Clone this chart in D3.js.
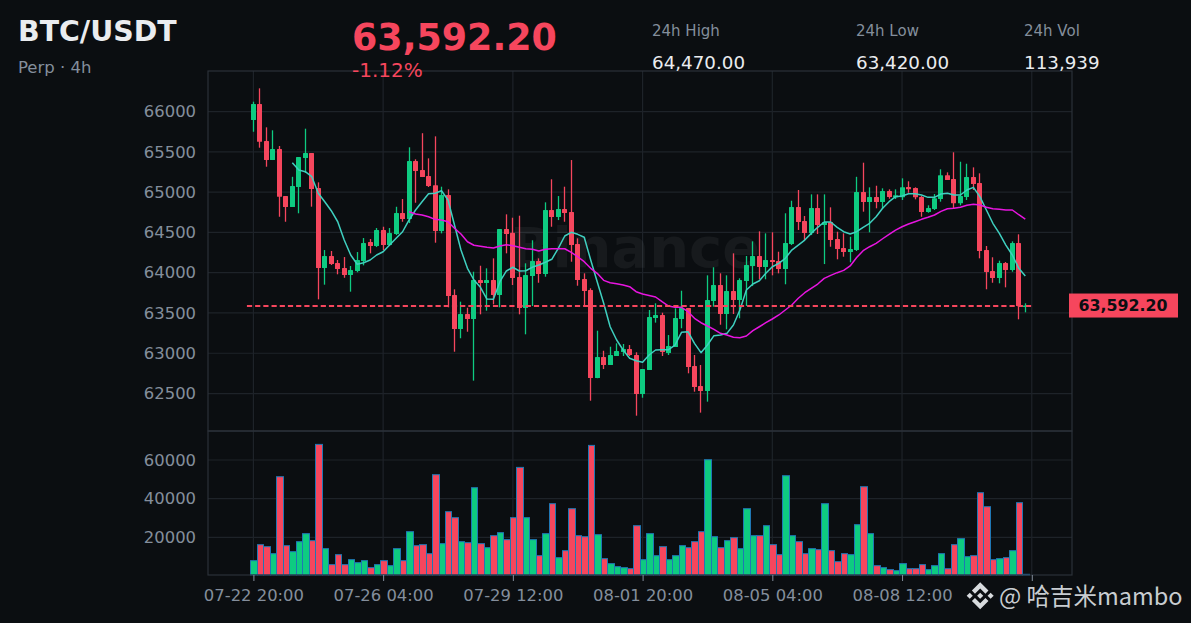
<!DOCTYPE html>
<html>
<head>
<meta charset="utf-8">
<style>
html, body { margin: 0; padding: 0; background: #0b0e11; overflow: hidden; }
text { font-family: "DejaVu Sans", sans-serif; }
</style>
<script src="https://cdn.jsdelivr.net/npm/d3@7"></script>
</head>
<body>
<script>
// 4h candles
var candleOpen = [65895,66093,65634,65398,65535,64951,64815,65063,65423,65485,
  65051,64058,64207,64120,64058,63971,64021,64145,64380,64331,
  64530,64343,64480,64740,64666,65386,65274,65200,65084,64517,
  64964,63723,63301,63487,63425,63909,63872,63909,63723,64542,
  64496,63946,63561,63959,64145,63983,64778,64691,64790,64753,
  64356,63921,63785,62693,62953,62854,62966,63015,63053,62978,
  62494,62792,63438,63475,63003,63078,63425,63561,62842,62593,
  62531,63649,63847,63487,63772,63661,63897,64083,64207,64070,
  64157,64145,64045,64356,64815,64641,64492,64803,64592,64629,
  64418,64306,64256,64281,65001,64877,64939,64877,65014,64935,
  64935,65063,65051,64939,64753,64790,64914,65208,65162,64861,
  64939,65187,65113,64281,64021,63934,64120,64033,64368,63575];
var candleClose = [66093,65625,65398,65535,64943,64815,65075,65435,65485,65038,
  64058,64207,64107,64045,63971,64033,64157,64368,64331,64530,
  64343,64492,64740,64666,65386,65262,65187,65075,64517,64964,
  63710,63301,63487,63425,63909,63872,63909,63723,64542,64480,
  63934,63561,63971,64145,63983,64778,64691,64790,64740,64343,
  63909,63772,62693,62953,62854,62978,63028,63053,62978,62494,
  62804,63450,63475,63016,63090,63438,63561,62829,62581,62531,
  63661,63847,63487,63772,63661,63909,64095,64207,64070,64157,
  64132,64045,64368,64815,64629,64492,64803,64592,64629,64405,
  64294,64256,64294,65001,64877,64939,64877,65014,64939,64960,
  65059,65034,64935,64753,64802,64923,65208,65150,64861,64951,
  65187,65100,64269,64008,63934,64120,64033,64368,63586,63592.2];
var candleHigh = [66122,66288,65804,65767,65572,64951,65190,65435,65787,65485,
  65121,64281,64269,64157,64194,64083,64256,64430,64418,64554,
  64570,64554,64818,64914,65556,65407,65731,65419,65692,65067,
  65034,63793,63640,63565,64012,64086,64054,64178,64542,64724,
  64682,64707,64116,64402,64178,64873,65159,64951,65067,65398,
  64426,63992,63806,63280,63031,63081,63123,63115,63102,63012,
  62804,63537,63620,63503,63226,63558,63776,63561,62978,62854,
  63967,64067,63992,63967,64240,63930,64207,64389,64513,64488,
  64501,64260,64737,64893,65026,64703,64972,64972,64972,64811,
  64508,64488,64446,65190,65365,65059,65079,65047,65034,65034,
  65171,65134,65059,64951,64836,64976,65283,65245,65494,65377,
  65352,65307,65233,64331,64191,64149,64132,64389,64476,63620];
var candleLow = [65749,65551,65315,65398,64694,64632,64815,64737,65237,64819,
  63669,63851,64095,63980,63937,63764,64005,64091,64240,64318,
  64281,64331,64467,64632,64616,64868,65187,65063,64372,64488,
  63570,63019,63186,63267,62660,63483,63528,63607,63570,64240,
  63847,63483,63235,63586,63875,63950,64570,64653,64632,64136,
  63838,63586,62411,62690,62804,62854,62966,62966,62966,62225,
  62448,62792,63380,62966,62978,63078,63310,62751,62523,62263,
  62399,63578,63354,63297,63487,63434,63586,63834,63918,63918,
  63967,63992,63856,64343,64530,64405,64467,64480,64107,64322,
  64166,64198,64129,64269,64757,64501,64799,64790,64918,64914,
  64902,64992,64910,64694,64744,64778,64881,65150,64799,64836,
  64902,65026,64178,63794,63875,63868,63818,64012,63421,63508];
var volumes = [7940,16210,15177,11559,51360,15694,12592,17760,21900,18278,
  68073,14143,5875,11040,5875,8456,6905,7940,4320,5875,
  7940,5356,14143,7940,22930,15694,16210,11559,52400,16730,
  33270,30170,17760,17245,45675,16730,14660,20860,22415,18800,
  30170,56180,30170,18800,10525,21900,37400,9490,13110,34820,
  20860,20345,67556,21380,8975,6390,4840,4320,3800,26030,
  8456,21900,10525,15177,8456,10525,15694,14660,17760,22930,
  60147,20345,14660,18278,19830,14143,34820,20860,20860,26030,
  16210,11040,51877,20860,17760,11559,14143,13626,37400,13110,
  7425,11559,11040,26550,46190,21900,5356,4320,3290,2770,
  6390,3800,3800,5875,3290,5356,11559,3800,16210,19315,
  10008,10525,43090,35850,8456,8975,9490,13110,37920,860];
var ma7 = [65365,65274,65253,65191,64985,64881,64769,64632,64405,64219,
  64104,64124,64157,64219,64260,64343,64426,64508,64654,64778,
  64881,64980,64985,65017,64902,64591,64281,64054,63909,63818,
  63673,63669,63888,64021,64067,64021,64024,64067,64095,64129,
  64166,64302,64455,64501,64476,64439,64157,63888,63620,63329,
  63164,63040,62937,62907,62888,62978,63040,63044,63044,63102,
  63260,63267,63123,63007,63102,63218,63226,63247,63350,63537,
  63785,63859,63900,63992,64074,64116,64178,64281,64343,64405,
  64488,64563,64629,64629,64563,64508,64480,64508,64563,64613,
  64694,64799,64881,64943,64951,64980,64980,64964,64935,64935,
  64976,64985,64964,64964,65026,65059,64943,64778,64613,64488,
  64343,64219,64054,63959];
var ma25 = [64757,64728,64716,64694,64662,64654,64632,64551,64480,64384,
  64340,64327,64315,64306,64331,64347,64335,64315,64297,64290,
  64269,64290,64297,64297,64297,64253,64198,64136,64054,63992,
  63905,63875,63863,63847,63826,63764,63735,63717,63698,63640,
  63586,63570,63570,63516,63434,63379,63338,63297,63247,63226,
  63198,63193,63214,63280,63329,63379,63425,63475,63537,63599,
  63682,63751,63806,63859,63930,63967,64000,64029,64083,64188,
  64273,64322,64364,64421,64476,64529,64570,64604,64632,64662,
  64687,64716,64761,64794,64799,64811,64836,64848,64840,64811,
  64794,64786,64778,64778,64719,64666];
var lastPrice = 63592.2;
var priceTicks = [62500,63000,63500,64000,64500,65000,65500,66000];
var volumeTicks = [20000,40000,60000];
var dateTickIndex = [0,20,40,60,80,100,120];
var dateTickLabels = ["07-22 20:00","07-26 04:00","07-29 12:00","08-01 20:00","08-05 04:00","08-08 12:00",""];
var stats = [
  {name: "24h High", value: "64,470.00"},
  {name: "24h Low", value: "63,420.00"},
  {name: "24h Vol", value: "113,939"}
];
var statX = [652, 856, 1024];

var red = "#f6465d", green = "#0ecb81", teal = "#3fd0c0", magenta = "#e815e0";
var gridColor = "#1e2329", borderColor = "#2b3139", mutedColor = "#848e9c", lightColor = "#eaecef";

var svg = d3.select("body").append("svg").attr("width", 1191).attr("height", 623)
  .style("display", "block").style("background", "#0b0e11");

var left = 208, right = 1072, priceTop = 71, priceBottom = 431, volBottom = 575;

var x = d3.scaleLinear().domain([-7, 126.2]).range([left, right]);
var y = d3.scaleLinear().domain([62035, 66503]).range([priceBottom, priceTop]);
var yVol = d3.scaleLinear().domain([517, 75000]).range([volBottom, priceBottom]);

function label(px, py, size, weight, color, str) {
  return svg.append("text").attr("x", px).attr("y", py).attr("font-size", size)
    .attr("font-weight", weight).attr("fill", color).text(str);
}

// grid
var grid = svg.append("g");
grid.selectAll(".gp").data(priceTicks).enter().append("line")
  .attr("x1", left).attr("x2", right)
  .attr("y1", function(d) { return y(d); }).attr("y2", function(d) { return y(d); })
  .attr("stroke", gridColor).attr("stroke-width", 1.2);
grid.selectAll(".gv").data(volumeTicks).enter().append("line")
  .attr("x1", left).attr("x2", right)
  .attr("y1", function(d) { return yVol(d); }).attr("y2", function(d) { return yVol(d); })
  .attr("stroke", gridColor).attr("stroke-width", 1.2);
grid.selectAll(".gx").data(dateTickIndex).enter().append("line")
  .attr("x1", function(d) { return x(d); }).attr("x2", function(d) { return x(d); })
  .attr("y1", priceTop).attr("y2", volBottom)
  .attr("stroke", gridColor).attr("stroke-width", 1.2);

// watermark
svg.append("text").attr("x", 635).attr("y", 267).attr("text-anchor", "middle")
  .attr("font-size", 56).attr("font-weight", "bold")
  .attr("fill", "#ffffff").attr("fill-opacity", 0.05).text("Binance");

// candles, snapped to whole pixels so the bodies stay crisp
function bodyLeft(i) { return Math.round(x(i) - 2.5); }
var candles = svg.append("g").selectAll("g").data(candleOpen).enter().append("g")
  .attr("fill", function(d, i) { return candleClose[i] >= d ? green : red; })
  .attr("stroke", function(d, i) { return candleClose[i] >= d ? green : red; });
candles.append("line")
  .attr("x1", function(d, i) { return bodyLeft(i) + 2.5; }).attr("x2", function(d, i) { return bodyLeft(i) + 2.5; })
  .attr("y1", function(d, i) { return y(candleHigh[i]); })
  .attr("y2", function(d, i) { return y(candleLow[i]); })
  .attr("stroke-width", 1.3);
candles.append("rect")
  .attr("x", function(d, i) { return bodyLeft(i); })
  .attr("width", 5)
  .attr("y", function(d, i) { return y(Math.max(d, candleClose[i])); })
  .attr("height", function(d, i) { return Math.max(1, Math.abs(y(d) - y(candleClose[i]))); })
  .attr("rx", 0.5).attr("stroke", "none");

// moving averages
function maLine(values, color) {
  var start = candleClose.length - values.length;
  var line = d3.line()
    .x(function(d, i) { return x(i + start); })
    .y(function(d) { return y(d); });
  svg.append("path").datum(values)
    .attr("fill", "none").attr("stroke", color).attr("stroke-width", 1.5)
    .attr("stroke-linejoin", "round").attr("d", line);
}
maLine(ma7, teal);
maLine(ma25, magenta);

// last price line
svg.append("line").attr("x1", x(-1)).attr("x2", x(120))
  .attr("y1", Math.round(y(lastPrice))).attr("y2", Math.round(y(lastPrice)))
  .attr("stroke", red).attr("stroke-width", 2).attr("stroke-dasharray", "5.2,3");

// volume bars, neighbours share their blue edge
function barLeft(i) { return Math.round(x(i) - 3) + 0.5; }
svg.append("g").selectAll("rect").data(volumes).enter().append("rect")
  .attr("x", function(d, i) { return barLeft(i); })
  .attr("width", function(d, i) { return barLeft(i + 1) - barLeft(i); })
  .attr("y", function(d) { return yVol(d); })
  .attr("height", function(d) { return volBottom - yVol(d); })
  .attr("fill", function(d, i) { return candleClose[i] >= candleOpen[i] ? green : red; })
  .attr("stroke", "#1f77b4").attr("stroke-width", 1);

// panel borders
svg.append("rect").attr("x", left).attr("y", priceTop).attr("width", right - left).attr("height", priceBottom - priceTop)
  .attr("fill", "none").attr("stroke", borderColor).attr("stroke-width", 1.2);
svg.append("rect").attr("x", left).attr("y", priceBottom).attr("width", right - left).attr("height", volBottom - priceBottom)
  .attr("fill", "none").attr("stroke", borderColor).attr("stroke-width", 1.2);

// price tag sits over the border
svg.append("rect").attr("x", 1069).attr("y", y(lastPrice) - 12).attr("width", 109).attr("height", 24)
  .attr("fill", red);
svg.append("text").attr("x", 1123).attr("y", y(lastPrice) + 5.5).attr("text-anchor", "middle")
  .attr("font-size", 15.8).attr("font-weight", "bold").attr("fill", "#0b0e11")
  .text(d3.format(",.2f")(lastPrice));

// header
label(18, 40.5, 28.4, "bold", lightColor, "BTC/USDT");
label(18, 73, 16.5, "normal", mutedColor, "Perp · 4h");
label(352, 50, 36.4, "bold", red, d3.format(",.2f")(lastPrice));
label(352, 77, 20, "normal", red, "-1.12%");
stats.forEach(function(d, i) {
  label(statX[i], 36, 15, "normal", mutedColor, d.name);
  label(statX[i], 69, 18.3, "normal", lightColor, d.value);
});

// axes
function styleAxis(g) {
  g.select(".domain").remove();
  g.selectAll("text").attr("fill", mutedColor).attr("font-size", 16.4).attr("font-family", "DejaVu Sans");
  g.selectAll("line").attr("stroke", mutedColor);
}
svg.append("g").attr("transform", "translate(" + (left - 12) + ",0)")
  .call(d3.axisLeft(y).tickValues(priceTicks).tickFormat(d3.format("d")).tickSize(0).tickPadding(0))
  .call(styleAxis);
svg.append("g").attr("transform", "translate(" + (left - 12) + ",0)")
  .call(d3.axisLeft(yVol).tickValues(volumeTicks).tickFormat(d3.format("d")).tickSize(0).tickPadding(0))
  .call(styleAxis);
svg.append("g").attr("transform", "translate(0," + volBottom + ")")
  .call(d3.axisBottom(x).tickValues(dateTickIndex)
    .tickFormat(function(d, i) { return dateTickLabels[i]; }).tickSize(6).tickPadding(8))
  .call(styleAxis);

// footer mark
var logo = svg.append("g").attr("transform", "translate(966.7,582.3) scale(0.213)").attr("fill", "#d8dbde");
["M38.73 53.2L63.3 28.63l24.59 24.59 14.3-14.3L63.3 0 24.43 38.88z",
 "M0 63.3l14.3-14.3 14.3 14.3-14.3 14.3z",
 "M38.73 73.41L63.3 97.98l24.59-24.58 14.31 14.29-38.9 38.92L24.43 87.7z",
 "M98 63.31l14.3-14.3 14.31 14.3-14.3 14.3z",
 "M77.83 63.3L63.3 48.76 48.78 63.28 63.3 77.8z"].forEach(function(p) {
  logo.append("path").attr("d", p);
});
svg.append("text").attr("x", 999).attr("y", 605).attr("font-size", 23.5)
  .attr("fill", "#c8ccd0").style("font-family", "'Noto Sans CJK SC', 'Noto Sans', sans-serif")
  .text("@ 哈吉米mambo");
</script>
</body>
</html>
